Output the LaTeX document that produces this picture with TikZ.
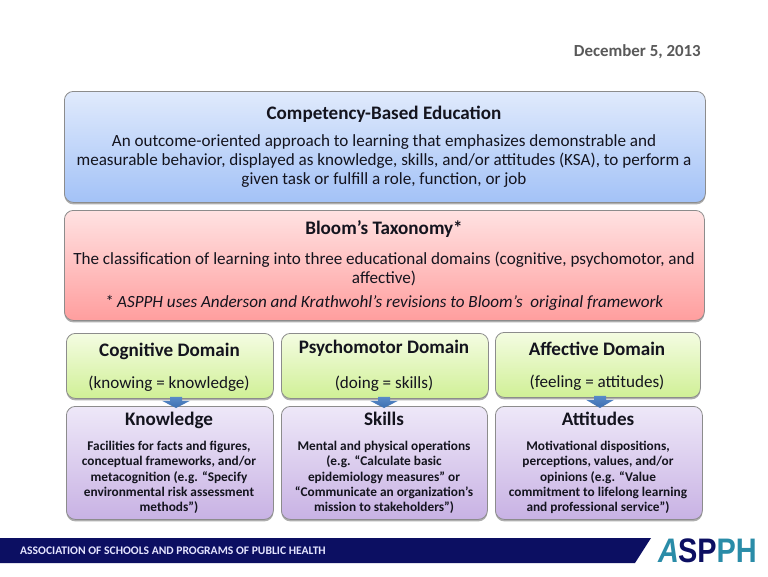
\documentclass[tikz,border=0pt]{standalone}
\usepackage{fontspec}
\setmainfont{Carlito}
\newfontfamily\logofont[FakeStretch=0.85]{Liberation Sans}
\usetikzlibrary{shadows,calc}
\definecolor{txt}{HTML}{14141E}
\definecolor{navy}{HTML}{0C0F62}
\definecolor{teal1}{HTML}{2A8CA8}
\tikzset{
 x=1pt,y=-1pt,
 panel/.style={draw=black!45,line width=.8pt,rounded corners=9pt,inner sep=0pt,anchor=north west,
   drop shadow={shadow xshift=0pt,shadow yshift=-2pt,opacity=.45,fill=black!70}},
 bluebox/.style={panel,top color={rgb,255:red,224;green,234;blue,252},bottom color={rgb,255:red,163;green,194;blue,247}},
 redbox/.style={panel,top color={rgb,255:red,255;green,226;blue,226},bottom color={rgb,255:red,255;green,158;blue,158}},
 greenbox/.style={panel,top color={rgb,255:red,244;green,252;blue,226},bottom color={rgb,255:red,208;green,240;blue,150}},
 purplebox/.style={panel,top color={rgb,255:red,238;green,232;blue,248},bottom color={rgb,255:red,200;green,178;blue,228}},
 label/.style={text=txt,align=center,inner sep=0pt},
 head/.style={label,anchor=base,font=\fontsize{19.1}{22}\selectfont\bfseries},
 big/.style={label,font=\fontsize{17.1}{18.7}\selectfont},
 mid/.style={label,anchor=base,font=\fontsize{17.1}{20}\selectfont},
 small/.style={label,font=\fontsize{13.3}{15.3}\selectfont\bfseries},
 flow/.style={top color={rgb,255:red,88;green,138;blue,200},bottom color={rgb,255:red,60;green,110;blue,176},draw=none},
}
\begin{document}
\begin{tikzpicture}
\useasboundingbox (0,0) rectangle (768,576);
\fill[white] (0,0) rectangle (768,576);
\node[label,anchor=east,text=black!65,font=\fontsize{16.9}{18}\selectfont\bfseries] (date) at (701,52) {December 5, 2013};
% top panels
\node[bluebox,minimum width=641pt,minimum height=111pt] (comp) at (64,91) {};
\node[head] (compt) at (384,119) {Competency-Based Education};
\node[big] (compb) at (384,161) {An outcome-oriented approach to learning that emphasizes demonstrable and\\measurable behavior, displayed as knowledge, skills, and/or attitudes (KSA), to perform a\\given task or fulfill a role, function, or job};
\node[redbox,minimum width=640pt,minimum height=110pt] (bloom) at (64,210) {};
\node[head] (bloomt) at (384,234) {Bloom’s Taxonomy*};
\node[big] (bloomb) at (384,269) {The classification of learning into three educational domains (cognitive, psychomotor, and\\affective)};
\node[big,font=\fontsize{17.1}{18.7}\selectfont\itshape] (bloomn) at (384,303) {* ASPPH uses Anderson and Krathwohl’s revisions to Bloom’s\ \ original framework};
% purple first so arrows sit on top
\node[purplebox,minimum width=207pt,minimum height=113pt] (p1) at (66,406) {};
\node[purplebox,minimum width=206pt,minimum height=113pt] (p2) at (281,406) {};
\node[purplebox,minimum width=207pt,minimum height=113pt] (p3) at (495,406) {};
\node[greenbox,minimum width=207pt,minimum height=65pt] (g1) at (66,333) {};
\node[greenbox,minimum width=207pt,minimum height=65pt] (g2) at (281,333) {};
\node[greenbox,minimum width=205pt,minimum height=65pt] (g3) at (495,332) {};
\foreach \n/\a/\b/\cx in {1/g1/p1/176,2/g2/p2/384,3/g3/p3/600}{
 \path (\a.south -| \cx,0) coordinate (s\n) (\b.north -| \cx,0) coordinate (e\n);
 \shade[flow] ($(s\n)+(-6,-2)$) -- ($(s\n)+(6,-2)$) -- ($(s\n)+(6,2)$) -- ($(s\n)+(14,2)$) -- ($(e\n)+(0,2)$) -- ($(s\n)+(-14,2)$) -- ($(s\n)+(-6,2)$) -- cycle;
}
\node[head] (g1t) at (169.5,356) {Cognitive Domain};
\node[mid] (g1b) at (169,388) {(knowing = knowledge)};
\node[head] (g2t) at (384,353) {Psychomotor Domain};
\node[mid] (g2b) at (384,388) {(doing = skills)};
\node[head] (g3t) at (597,355) {Affective Domain};
\node[mid] (g3b) at (597,387) {(feeling = attitudes)};
\node[head] (p1t) at (169,425) {Knowledge};
\node[small] (p1b) at (169,477.5) {Facilities for facts and figures,\\conceptual frameworks, and/or\\metacognition (e.g. “Specify\\environmental risk assessment\\methods”)};
\node[head] (p2t) at (384,425) {Skills};
\node[small] (p2b) at (384,477.5) {Mental and physical operations\\(e.g. “Calculate basic\\epidemiology measures” or\\“Communicate an organization’s\\mission to stakeholders”)};
\node[head] (p3t) at (598,425) {Attitudes};
\node[small] (p3b) at (598,477.5) {Motivational dispositions,\\perceptions, values, and/or\\opinions (e.g. “Value\\commitment to lifelong learning\\and professional service”)};
% banner
\fill[navy] (0,538) -- (651,538) -- (635,563) -- (0,563) -- cycle;
\node[anchor=west,inner sep=0pt,text=white!90!blue,font=\fontsize{11.6}{14}\selectfont\bfseries] (ban) at (20,551) {ASSOCIATION OF SCHOOLS AND PROGRAMS OF PUBLIC HEALTH};
\node[anchor=west,inner sep=0pt,font=\logofont\fontsize{34}{34}\selectfont\bfseries] (logo) at (658,551) {\textcolor{teal1}{\itshape A}\kern-1pt\textcolor{navy}{SP}\textcolor{teal1}{PH}};
\end{tikzpicture}
\end{document}
